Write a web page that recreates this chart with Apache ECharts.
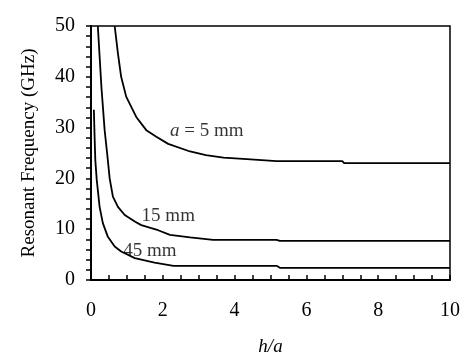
<!DOCTYPE html>
<html>
<head>
<meta charset="utf-8">
<script src="https://cdn.jsdelivr.net/npm/echarts@6/dist/echarts.min.js"></script>
<style>
html,body{margin:0;padding:0;background:#fff;}
#c{width:474px;height:363px;}
</style>
</head>
<body>
<div id="c"></div>
<script>
// h/a values and resonant frequencies (GHz)
var a5X  = [0.66, 0.75, 0.84, 0.98, 1.26, 1.54, 1.82, 2.15, 2.76, 3.2, 3.69, 4.34, 5.17, 6.1, 7.0, 7.05, 10];
var a5Y  = [50, 44.6, 40.0, 36.1, 32.1, 29.5, 28.2, 26.8, 25.3, 24.6, 24.1, 23.8, 23.4, 23.4, 23.4, 23.0, 23.0];
var a15X = [0.19, 0.29, 0.38, 0.45, 0.52, 0.61, 0.75, 0.94, 1.22, 1.40, 1.68, 1.87, 2.2, 2.76, 3.4, 5.17, 5.26, 10];
var a15Y = [50, 38, 29.5, 24.9, 20.0, 16.4, 14.4, 12.8, 11.5, 10.8, 10.2, 9.8, 8.9, 8.4, 7.9, 7.9, 7.7, 7.7];
var a45X = [0.08, 0.10, 0.12, 0.16, 0.24, 0.33, 0.47, 0.66, 0.84, 1.22, 1.77, 2.3, 5.17, 5.26, 10];
var a45Y = [33.5, 28.2, 23.6, 19.7, 14.4, 11.2, 8.5, 6.6, 5.6, 4.3, 3.4, 2.8, 2.8, 2.4, 2.4];
// annotation anchors (data coords) and texts
var labelPos = [[2.2, 29.4], [1.41, 12.5], [0.9, 5.8]];
var labelTxt = ['{i|a}{n| = 5 mm}', '{n|15 mm}', '{n|45 mm}'];

function pairs(xs, ys){ return xs.map(function(x,i){ return [x, ys[i]]; }); }

var FONT = '"Liberation Serif","Times New Roman",serif';
var lineStyle = {color:'#000', width:1.8};
var chart = echarts.init(document.getElementById('c'), null, {renderer:'canvas'});
chart.setOption({
  animation:false,
  backgroundColor:'#fff',
  grid:{left:91, right:24, top:26, bottom:83, show:true, borderColor:'#000', borderWidth:1.5, backgroundColor:'transparent'},
  xAxis:{
    type:'value', min:0, max:10, interval:2,
    name:'h/a', nameLocation:'middle', nameGap:57,
    nameTextStyle:{fontFamily:FONT, fontSize:19, fontStyle:'italic', color:'#000'},
    axisLine:{show:true, onZero:false, lineStyle:{color:'#000', width:2}},
    axisTick:{show:true, inside:true, length:5, lineStyle:{color:'#000', width:1.5}},
    minorTick:{show:true, splitNumber:4, length:5, lineStyle:{color:'#000', width:1.5}},
    axisLabel:{fontFamily:FONT, fontSize:20, color:'#000', margin:21},
    splitLine:{show:false}
  },
  yAxis:{
    type:'value', min:0, max:50, interval:10,
    name:'Resonant Frequency (GHz)', nameLocation:'middle', nameGap:52,
    nameTextStyle:{fontFamily:FONT, fontSize:19, color:'#000'},
    axisLine:{show:true, lineStyle:{color:'#000', width:2}},
    axisTick:{show:true, inside:false, length:5, lineStyle:{color:'#000', width:1.5}},
    minorTick:{show:true, splitNumber:5, length:5, lineStyle:{color:'#000', width:1.5}},
    axisLabel:{fontFamily:FONT, fontSize:20, color:'#000', margin:16},
    splitLine:{show:false}
  },
  series:[
    {type:'line', data:pairs(a5X,a5Y), showSymbol:false, lineStyle:lineStyle},
    {type:'line', data:pairs(a15X,a15Y), showSymbol:false, lineStyle:lineStyle},
    {type:'line', data:pairs(a45X,a45Y), showSymbol:false, lineStyle:lineStyle},
    {type:'scatter', symbolSize:0, silent:true, z:5,
     data:labelPos.map(function(p,i){ return {value:p, label:{formatter:labelTxt[i]}}; }),
     label:{show:true, position:'right', distance:0, color:'#000',
       rich:{i:{fontFamily:FONT, fontSize:19, fontStyle:'italic', color:'#000'},
             n:{fontFamily:FONT, fontSize:19, color:'#000'}}}}
  ]
});
</script>
</body>
</html>
